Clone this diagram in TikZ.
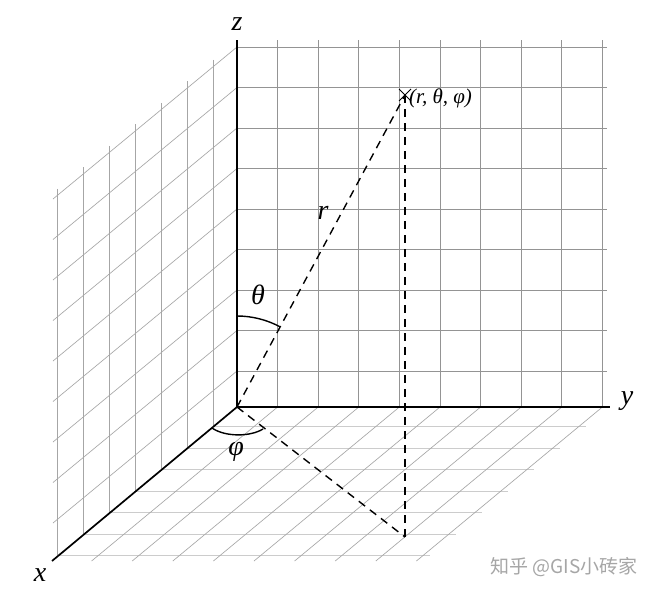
\documentclass[tikz,border=0pt]{standalone}
\usepackage{fontspec}
\setmainfont{Liberation Serif}
\newfontfamily\cjk{Noto Sans CJK SC}
\begin{document}
\begin{tikzpicture}[x=1pt,y=-1pt,
  gridline/.style={draw=black!42, line width=0.65pt},
  sideline/.style={draw=black!35, line width=0.65pt},
  floorline/.style={draw=black!20, line width=1.2pt},
  axisline/.style={draw=black, line width=1.7pt},
  dashline/.style={draw=black, dashed, dash pattern=on 8pt off 6pt, line width=1.4pt},
  arcline/.style={draw=black, line width=1.4pt},
  lbl/.style={font=\fontsize{28}{32}\selectfont\itshape, inner sep=0pt},
  ptlbl/.style={font=\fontsize{21}{25}\selectfont\itshape, inner sep=0pt, anchor=west},
  wm/.style={font=\cjk\fontsize{19}{22}\selectfont, text=black!35, inner sep=0pt}]
\fill[white] (0,0) rectangle (658,595);
\useasboundingbox (0,0) rectangle (658,595);
% back wall (yz)
\foreach \k in {1,...,9}{
  \pgfmathsetmacro\xs{237+40.6*\k}
  \draw[gridline] (\xs,40) -- (\xs,407);
}
\foreach \k in {0,...,8}{
  \pgfmathsetmacro\yy{47+40.5*\k}
  \draw[gridline] (237,\yy) -- (607,\yy);
  \draw[sideline] (237,\yy) -- (53,\yy+152);
}
% left wall verticals and floor lines parallel to y
\foreach \j in {1,...,7}{
  \pgfmathsetmacro\xx{239-26*\j}
  \pgfmathsetmacro\yt{47+(237-\xx)*0.827-7}
  \pgfmathsetmacro\yb{407+(237-\xx)*0.827}
  \pgfmathsetmacro\xe{612-26*\j}
  \draw[sideline] (\xx,\yt) -- (\xx,\yb);
  \draw[floorline] (\xx,\yb) -- (\xe,\yb);
}
% floor lines parallel to x
\foreach \k in {1,...,9}{
  \pgfmathsetmacro\xs{237+40.6*\k}
  \draw[sideline] (\xs,407) -- (\xs-186,561);
}
% axes
\coordinate (O) at (237,407);
\coordinate (Z) at (237,40);
\coordinate (Y) at (610,407);
\coordinate (X) at (52,561);
\coordinate (P) at (405,95);
\coordinate (Q) at (405,537);
\draw[axisline] (O) -- (Z);
\draw[axisline] (O) -- (Y);
\draw[axisline] (O) -- (X);
% dashed lines
\draw[dashline] (O) -- (P);
\draw[dashline] (P) -- (Q);
\draw[dashline] (O) -- (Q);
% point marker
\draw[line width=1pt] (399,89) -- (411,101) (399,101) -- (411,89);
% angle arcs
\coordinate (Ta) at (237,316);
\draw[arcline] (Ta) arc[start angle=270, end angle=298.3, radius=91];
\coordinate (Fa) at (212,428);
\coordinate (Fb) at (263,429);
\draw[arcline] (Fa) .. controls (225,437) and (250,437) .. (Fb);
% labels
\node[lbl] (lz) at (237,24) {z};
\node[lbl] (ly) at (627,401) {y};
\node[lbl] (lx) at (40,575) {x};
\node[lbl] (lr) at (323,213) {r};
\node[lbl] (lt) at (258,295) {θ};
\node[lbl] (lp) at (236,452) {φ};
\node[ptlbl] (lP) at (409,98) {(r, θ, φ)};
\node[wm] (wmk) at (564,567) {知乎 @GIS小砖家};
\end{tikzpicture}
\end{document}
